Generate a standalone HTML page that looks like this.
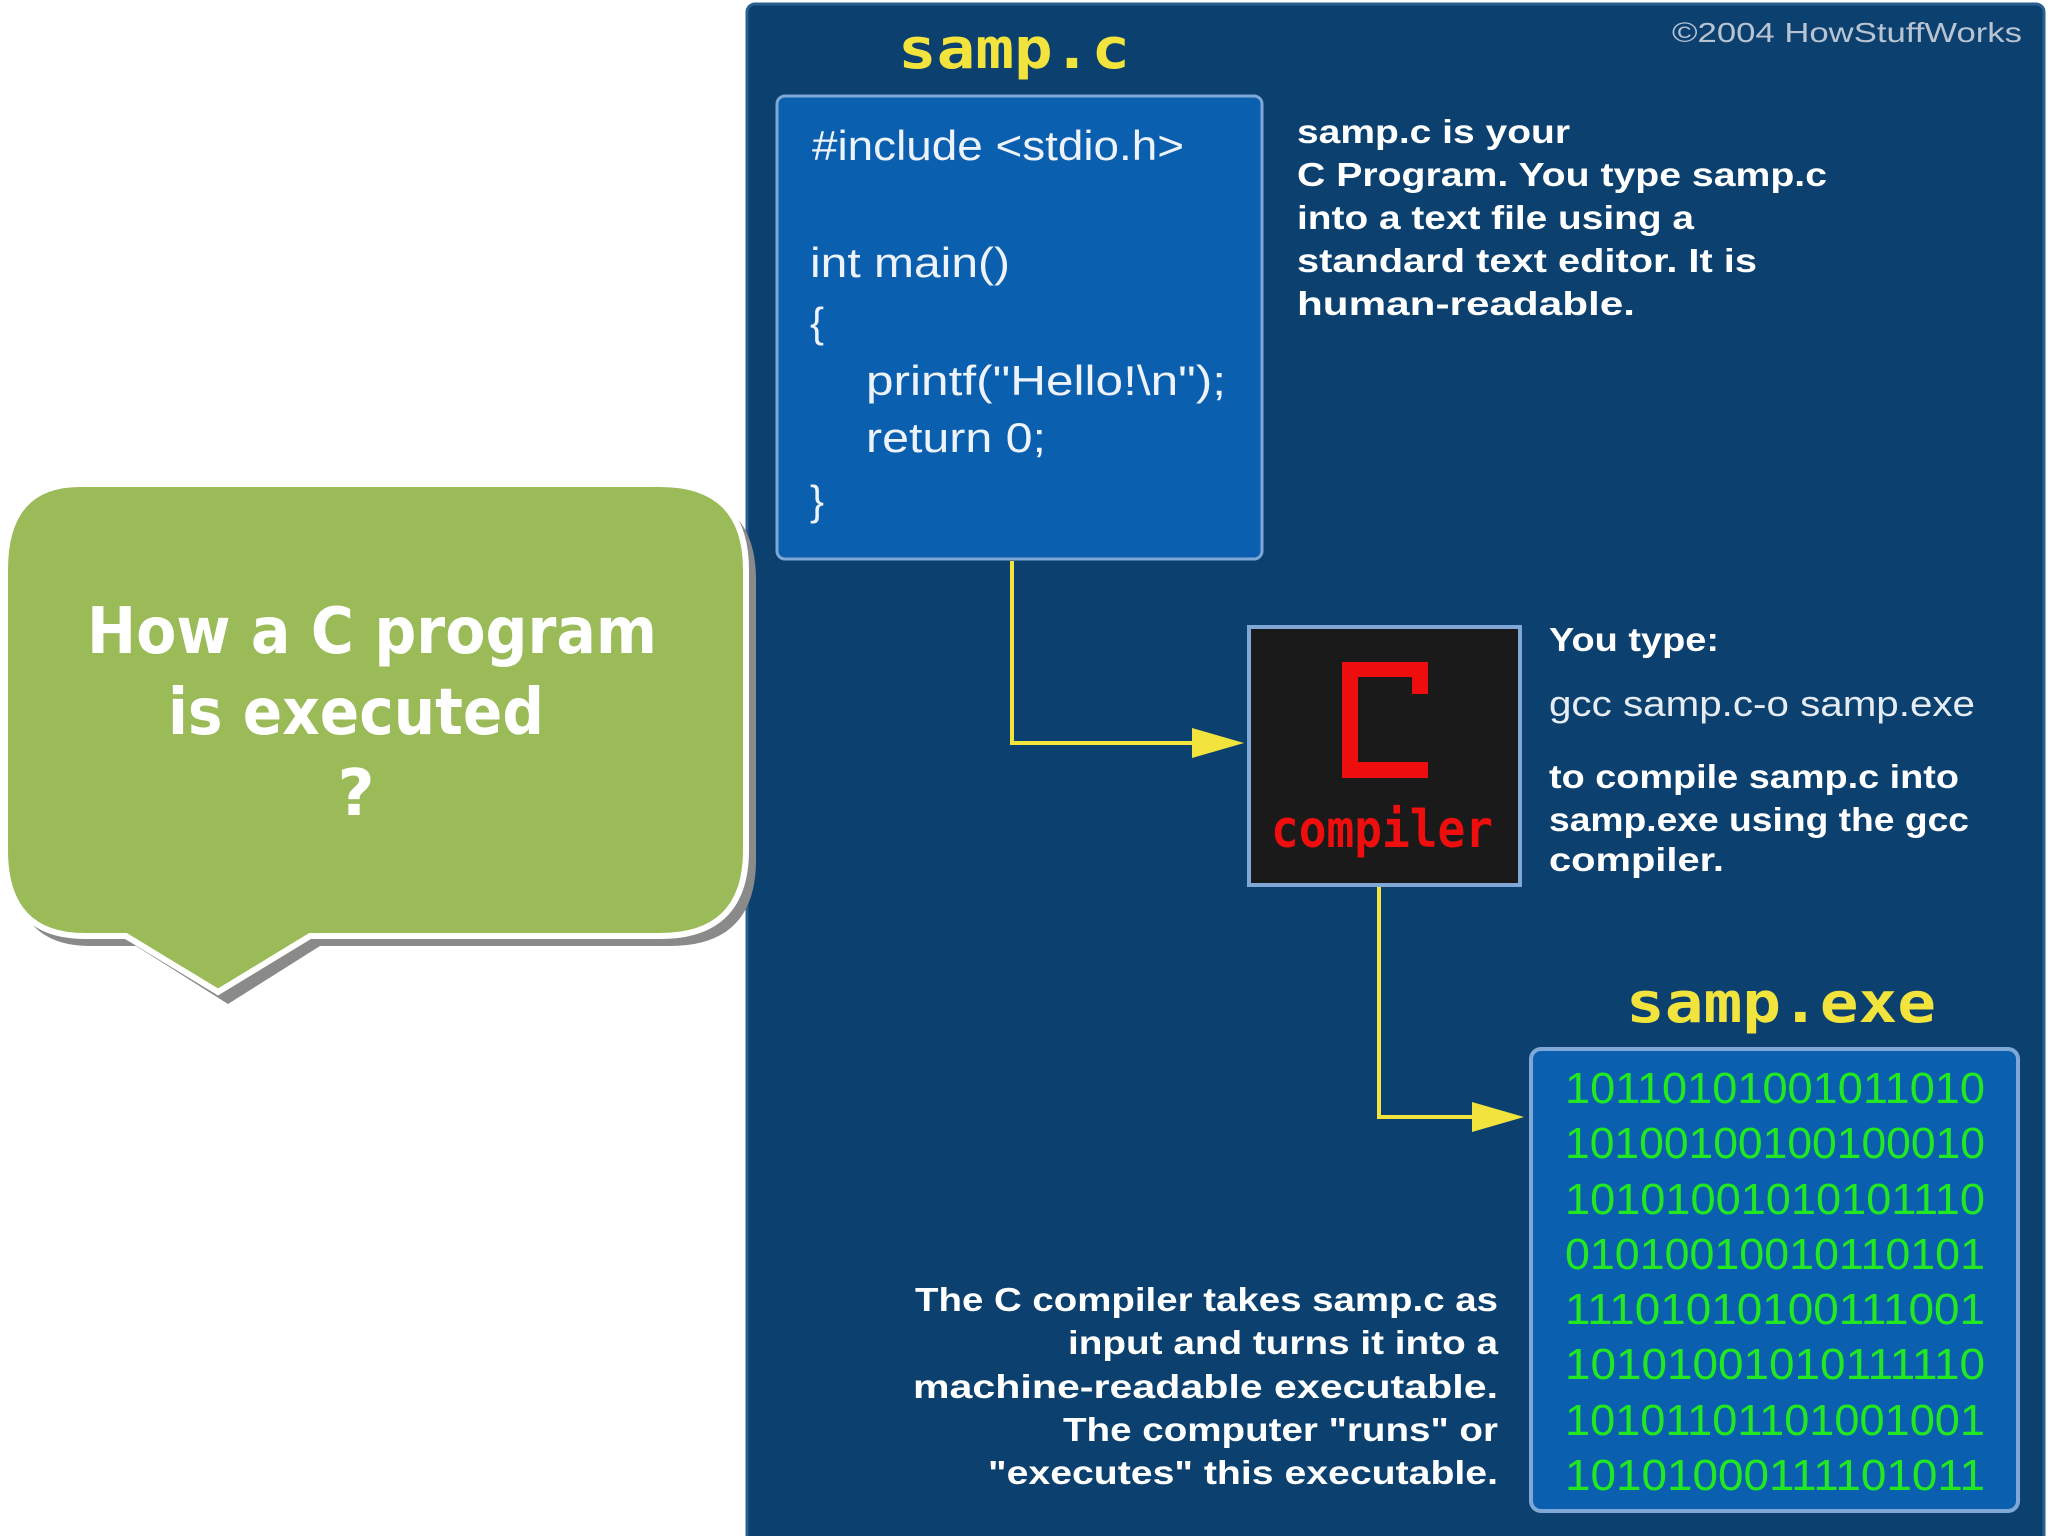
<!DOCTYPE html>
<html><head><meta charset="utf-8"><style>
html,body{margin:0;padding:0;background:#fff;}
svg{display:block;}
</style></head><body>
<svg width="2048" height="1536" viewBox="0 0 2048 1536" xmlns="http://www.w3.org/2000/svg">
<rect width="2048" height="1536" fill="#fff"/>
<!-- blue panel -->
<rect x="747" y="4" width="1297" height="1540" rx="8" fill="#0b406f" stroke="#2a5f90" stroke-width="3"/>
<!-- bubble shadow -->
<path d="M85 494 H670 Q756 494 756 580 V860 Q756 946 670 946 H320 L228 1004 L136 946 H90 Q13 946 13 860 V580 Q13 494 85 494 Z" fill="#8a8a8a"/>
<path d="M80 484 H660 Q746 484 746 570 V850 Q746 936 660 936 H310 L218 992 L126 936 H85 Q5 936 5 850 V570 Q5 484 80 484 Z" fill="#9bbb59" stroke="#fff" stroke-width="6"/>
<g font-family="'Comic Sans MS','DejaVu Sans',sans-serif" font-weight="bold" fill="#fff" font-size="64" text-anchor="middle">
<text x="372" y="653" textLength="570" lengthAdjust="spacingAndGlyphs">How a C program</text>
<text x="356" y="734" textLength="376" lengthAdjust="spacingAndGlyphs">is executed</text>
<text x="356" y="815">?</text>
</g>
<!-- titles -->
<g font-family="'DejaVu Sans Mono','Liberation Mono',monospace" font-weight="bold" fill="#f2e43c">
<text x="898" y="68" font-size="56" textLength="232" lengthAdjust="spacingAndGlyphs">samp.c</text>
<text x="1626" y="1022" font-size="56" textLength="310" lengthAdjust="spacingAndGlyphs">samp.exe</text>
</g>
<text x="1672" y="42" font-family="'Liberation Sans',sans-serif" font-size="28" fill="#b8c4d2" textLength="350" lengthAdjust="spacingAndGlyphs">©2004 HowStuffWorks</text>
<!-- code box -->
<rect x="777" y="96" width="485" height="463" rx="8" fill="#0a5fae" stroke="#7fa8d6" stroke-width="3"/>
<g font-family="'Liberation Sans',sans-serif" font-size="42" fill="#eef3fa">
<text x="812" y="160" textLength="372" lengthAdjust="spacingAndGlyphs">#include &lt;stdio.h&gt;</text>
<text x="810" y="277" textLength="200" lengthAdjust="spacingAndGlyphs">int main()</text>
<text x="810" y="337">{</text>
<text x="866" y="395" textLength="360" lengthAdjust="spacingAndGlyphs">printf("Hello!\n");</text>
<text x="866" y="452" textLength="180" lengthAdjust="spacingAndGlyphs">return 0;</text>
<text x="810" y="515">}</text>
</g>
<!-- descriptions -->
<g font-family="'Liberation Sans',sans-serif" font-weight="bold" font-size="33" fill="#fff">
<text x="1297" y="143" textLength="273" lengthAdjust="spacingAndGlyphs">samp.c is your</text>
<text x="1297" y="186" textLength="530" lengthAdjust="spacingAndGlyphs">C Program. You type samp.c</text>
<text x="1297" y="229" textLength="397" lengthAdjust="spacingAndGlyphs">into a text file using a</text>
<text x="1297" y="272" textLength="460" lengthAdjust="spacingAndGlyphs">standard text editor. It is</text>
<text x="1297" y="315" textLength="338" lengthAdjust="spacingAndGlyphs">human-readable.</text>
<text x="1549" y="651" textLength="170" lengthAdjust="spacingAndGlyphs">You type:</text>
<text x="1549" y="788" textLength="410" lengthAdjust="spacingAndGlyphs">to compile samp.c into</text>
<text x="1549" y="831" textLength="420" lengthAdjust="spacingAndGlyphs">samp.exe using the gcc</text>
<text x="1549" y="871" textLength="175" lengthAdjust="spacingAndGlyphs">compiler.</text>
<g text-anchor="end">
<text x="1498" y="1311" textLength="583" lengthAdjust="spacingAndGlyphs">The C compiler takes samp.c as</text>
<text x="1498" y="1354" textLength="430" lengthAdjust="spacingAndGlyphs">input and turns it into a</text>
<text x="1498" y="1398" textLength="585" lengthAdjust="spacingAndGlyphs">machine-readable executable.</text>
<text x="1498" y="1441" textLength="435" lengthAdjust="spacingAndGlyphs">The computer "runs" or</text>
<text x="1498" y="1484" textLength="510" lengthAdjust="spacingAndGlyphs">"executes" this executable.</text>
</g>
</g>
<text x="1549" y="716" font-family="'Liberation Sans',sans-serif" font-size="36" fill="#e6ecf4" textLength="426" lengthAdjust="spacingAndGlyphs">gcc samp.c-o samp.exe</text>
<!-- connectors -->
<g stroke="#f2e43c" stroke-width="4" fill="none">
<polyline points="1012,561 1012,743 1200,743"/>
<polyline points="1379,887 1379,1117 1480,1117"/>
</g>
<polygon points="1192,728 1244,743 1192,758" fill="#f2e43c"/>
<polygon points="1472,1102 1524,1117 1472,1132" fill="#f2e43c"/>
<!-- compiler box -->
<rect x="1249" y="627" width="271" height="258" fill="#1a1a1a" stroke="#7fa8d6" stroke-width="4"/>
<path d="M1342 662 H1428 V694 H1412 V677 H1358 V762 H1428 V778 H1342 Z" fill="#ee0e0e"/>
<text x="1271" y="847" font-family="'DejaVu Sans Mono',monospace" font-weight="bold" font-size="52" fill="#ee0e0e" textLength="222" lengthAdjust="spacingAndGlyphs">compiler</text>
<!-- binary box -->
<rect x="1531" y="1049" width="487" height="462" rx="10" fill="#0a5fae" stroke="#7fa8d6" stroke-width="4"/>
<g font-family="'Liberation Sans',sans-serif" font-size="44" fill="#22e822">
<text x="1565" y="1103" textLength="420" lengthAdjust="spacingAndGlyphs">10110101001011010</text>
<text x="1565" y="1158" textLength="420" lengthAdjust="spacingAndGlyphs">10100100100100010</text>
<text x="1565" y="1214" textLength="420" lengthAdjust="spacingAndGlyphs">10101001010101110</text>
<text x="1565" y="1269" textLength="420" lengthAdjust="spacingAndGlyphs">01010010010110101</text>
<text x="1565" y="1324" textLength="420" lengthAdjust="spacingAndGlyphs">11101010100111001</text>
<text x="1565" y="1379" textLength="420" lengthAdjust="spacingAndGlyphs">10101001010111110</text>
<text x="1565" y="1435" textLength="420" lengthAdjust="spacingAndGlyphs">10101101101001001</text>
<text x="1565" y="1490" textLength="420" lengthAdjust="spacingAndGlyphs">10101000111101011</text>
</g>
</svg>
</body></html>
